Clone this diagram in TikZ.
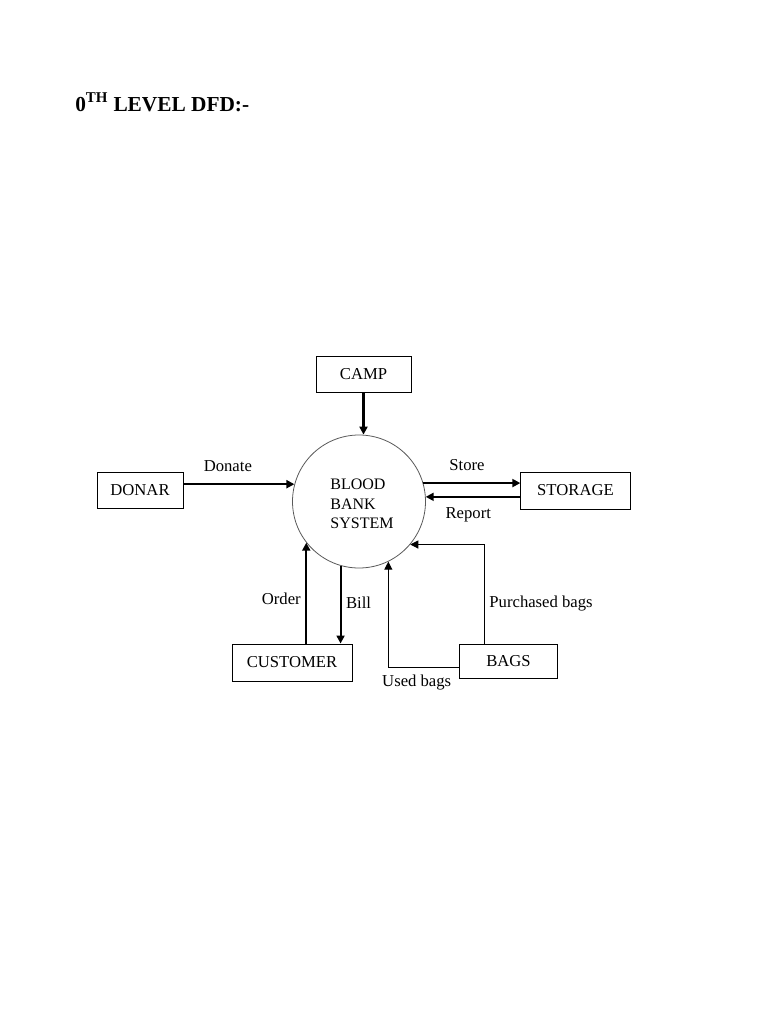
\documentclass[tikz,border=0pt]{standalone}
\usepackage{fontspec}
\setmainfont{Liberation Serif}
\usepackage{tikz}
\usetikzlibrary{arrows.meta,positioning,calc}

\begin{document}
\begin{tikzpicture}[
  x=0.75pt, y=-0.75pt,
  font=\fontsize{12.5}{15}\selectfont,
  entity/.style={
    draw, line width=0.75pt, align=center, inner sep=2pt
  },
  process/.style={
    circle, draw=black!65, line width=0.6pt, inner sep=0pt,
    minimum size=99.75pt, align=left
  },
  flow/.style={-{Triangle[length=6pt,width=6pt]}, line width=1.6pt},
  thinflow/.style={-{Triangle[length=6pt,width=6pt]}, line width=0.75pt}
]
\useasboundingbox (0,0) rectangle (768,1024);

\node[anchor=base west, inner sep=0pt, font=\fontsize{16}{19}\selectfont\bfseries] (title) at (75,111)
  {0\textsuperscript{TH} LEVEL DFD:-};

\node[process] (bbs) at (359,501.5) {};
\node[align=left, font=\fontsize{12}{14.8}\selectfont] (bbstext) at (362,504) {BLOOD\\BANK\\SYSTEM};
\node[entity, minimum width=71.25pt, minimum height=27pt] (camp) at (363.5,374) {CAMP};
\node[entity, minimum width=64.5pt, minimum height=27pt] (donar) at (140,490) {DONAR};
\node[entity, minimum width=82pt, minimum height=27.75pt] (storage) at (575.5,490.5) {STORAGE};
\node[entity, minimum width=90pt, minimum height=27.75pt] (customer) at (292,662.5) {CUSTOMER};
\node[entity, minimum width=73pt, minimum height=25.5pt] (bags) at (508.5,661) {BAGS};

% flows into and out of the system
\draw[flow] (camp.south) -- (bbs.north -| camp.south);
\draw[flow] (bbs.165 -| donar.east) -- node[above=5pt, pos=0.4] {Donate} (bbs.165);
\draw[flow] (bbs.16) -- node[above=5pt, pos=0.45] {Store} (bbs.16 -| storage.west);
\draw[flow] (bbs.4 -| storage.west) -- node[below=4pt, pos=0.55] {Report} (bbs.4);
\draw[flow] (bbs.-142 |- customer.north) -- node[left, pos=0.44] {Order} (bbs.-142);
\draw[flow] (bbs.-106) -- node[right, pos=0.47] {Bill} (bbs.-106 |- customer.north);
\draw[thinflow] ([xshift=-18pt]bags.north) |- node[right, pos=0.2] {Purchased bags} (bbs.-40);
\draw[thinflow] ([yshift=-5pt]bags.west) -| node[below=2pt, pos=0.3] {Used bags} (bbs.-64);
\end{tikzpicture}
\end{document}
